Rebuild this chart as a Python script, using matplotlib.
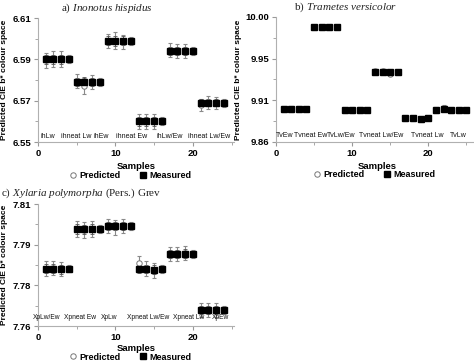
import numpy as np
import matplotlib
matplotlib.use("Agg")
import matplotlib.pyplot as plt
from matplotlib.ticker import MultipleLocator, FixedLocator

# ---- data -------------------------------------------------------------
samples_a = np.arange(1, 25)
measured_a = [6.590, 6.590, 6.590, 6.590, 6.579, 6.579, 6.579, 6.579,
              6.599, 6.599, 6.599, 6.599, 6.560, 6.560, 6.560, 6.560,
              6.594, 6.594, 6.594, 6.594, 6.569, 6.569, 6.569, 6.569]
predicted_a = [6.5895, 6.590, 6.590, 6.590, 6.5795, 6.5770, 6.579, 6.579,
               6.599, 6.599, 6.5985, 6.599, 6.560, 6.560, 6.560, 6.560,
               6.5945, 6.594, 6.594, 6.594, 6.5678, 6.5692, 6.569, 6.569]
err_a = [0.0035, 0.0038, 0.0038, 0.002, 0.0035, 0.0038, 0.0035, 0.002,
         0.0035, 0.004, 0.0035, 0.002, 0.0035, 0.0035, 0.0035, 0.002,
         0.0035, 0.0035, 0.0035, 0.002, 0.003, 0.003, 0.003, 0.002]
groups_a = ["ihLw", "ihneat Lw", "ihEw", "ihneat Ew", "ihLw/Ew", "ihneat Lw/Ew"]
group_x_a = [1.3, 4.9, 8.1, 12.1, 17.0, 22.1]

samples_b = np.arange(1, 26)
measured_b = [9.897, 9.897, 9.897, 9.897, 9.9884, 9.9884, 9.9884, 9.9884,
              9.8955, 9.8955, 9.896, 9.896, 9.938, 9.938, 9.938, 9.938,
              9.8865, 9.8865, 9.886, 9.8865, 9.896, 9.897, 9.8955, 9.8955, 9.8955]
predicted_b = [9.897, 9.897, 9.897, 9.897, 9.9884, 9.9884, 9.9884, 9.9884,
               9.8955, 9.8955, 9.896, 9.896, 9.939, 9.939, 9.9365, 9.938,
               9.8865, 9.8865, 9.8855, 9.8865, 9.896, 9.898, 9.8955, 9.8955, 9.8955]
err_b = [0.003, 0.003, 0.003, 0.0, 0.003, 0.003, 0.003, 0.0,
         0.003, 0.003, 0.003, 0.0, 0.003, 0.003, 0.003, 0.0,
         0.003, 0.003, 0.003, 0.0, 0.003, 0.003, 0.003, 0.003, 0.0]
groups_b = ["TvEw", "Tvneat Ew", "TvLw/Ew", "Tvneat Lw/Ew", "Tvneat Lw", "TvLw"]
group_x_b = [1.1, 4.6, 8.6, 13.8, 19.8, 23.9]

samples_c = np.arange(1, 25)
measured_c = [7.7835, 7.7835, 7.7833, 7.7835, 7.7998, 7.7996, 7.7998, 7.7998,
              7.8010, 7.8010, 7.8010, 7.8010, 7.7834, 7.7834, 7.7830, 7.7834,
              7.7895, 7.7895, 7.7896, 7.7895, 7.7666, 7.7666, 7.7666, 7.7666]
predicted_c = [7.7835, 7.7838, 7.7833, 7.7835, 7.7998, 7.7993, 7.7998, 7.7998,
               7.8010, 7.8005, 7.8010, 7.8010, 7.7858, 7.7836, 7.7828, 7.7834,
               7.7895, 7.7895, 7.7899, 7.7895, 7.7666, 7.7666, 7.7666, 7.7666]
err_c = [0.003, 0.003, 0.003, 0.0015, 0.0033, 0.0033, 0.0033, 0.0015,
         0.003, 0.003, 0.003, 0.0015, 0.003, 0.003, 0.003, 0.0015,
         0.003, 0.003, 0.003, 0.0015, 0.003, 0.003, 0.003, 0.0015]
groups_c = ["XpLw/Ew", "Xpneat Ew", "XpLw", "Xpneat Lw/Ew", "Xpneat Lw", "XpEw"]
group_x_c = [1.1, 5.4, 9.2, 14.2, 19.4, 23.6]

# ---- figure -----------------------------------------------------------
W, H = 474, 361
fig = plt.figure(figsize=(W / 100, H / 100), dpi=100)
plt.rcParams['font.family'] = ['Liberation Sans', 'DejaVu Sans']
plt.rcParams['mathtext.fontset'] = 'custom'
plt.rcParams['mathtext.rm'] = 'Liberation Serif'
plt.rcParams['mathtext.it'] = 'Liberation Serif:italic'


def px_axes(left, top, right, bottom):
    return fig.add_axes([left / W, 1 - bottom / H, (right - left) / W, (bottom - top) / H])


def draw_panel(ax, x, meas, pred, err, groups, gx, gy, ylim, yticks, ylabels, xmax,
               gsize=5.0):
    ax.errorbar(x, pred, yerr=err, fmt='none', ecolor='#8a8a8a', elinewidth=0.8,
                capsize=1.4, capthick=0.8, zorder=1)
    ax.errorbar(x, meas, yerr=np.array(err) * 0.6, fmt='none', ecolor='#555555',
                elinewidth=0.6, capsize=1.1, capthick=0.6, zorder=1)
    ax.plot(x, pred, 'o', ms=3.9, mfc='white', mec='#777777', mew=0.7,
            linestyle='none', label='Predicted', zorder=2)
    ax.plot(x, meas, 's', ms=3.9, color='black', linestyle='none',
            label='Measured', zorder=3)
    for name, xx in zip(groups, gx):
        ax.text(xx, gy, name, fontsize=gsize, ha='center', va='center', color='#111111')
    ax.set_xlim(0, xmax)
    ax.set_ylim(*ylim)
    ax.xaxis.set_major_locator(MultipleLocator(10))
    ax.xaxis.set_minor_locator(MultipleLocator(5))
    ax.yaxis.set_major_locator(FixedLocator(yticks))
    ax.set_yticklabels(ylabels)
    minors = [(a + b) / 2 for a, b in zip(yticks[:-1], yticks[1:])]
    ax.yaxis.set_minor_locator(FixedLocator(minors))
    for s in ['top', 'right']:
        ax.spines[s].set_visible(False)
    for s in ['left', 'bottom']:
        ax.spines[s].set_color('#b0b0b0')
        ax.spines[s].set_linewidth(0.8)
    ax.tick_params(which='both', direction='out', color='#999999', labelsize=6.8, pad=2)
    ax.tick_params(which='major', length=3)
    ax.tick_params(which='minor', length=2)
    for lab in ax.get_xticklabels() + ax.get_yticklabels():
        lab.set_fontweight('bold')
    ax.set_xlabel('Samples', fontsize=6.8, fontweight='bold')
    ax.set_ylabel('Predicted CIE b* colour space', fontsize=6.0, fontweight='bold')


# a) Inonotus hispidus
ax_a = px_axes(38, 18, 234, 142)
draw_panel(ax_a, samples_a, measured_a, predicted_a, err_a, groups_a, group_x_a, 6.5529,
           (6.55, 6.61), [6.55, 6.57, 6.59, 6.61], ['6.55', '6.57', '6.59', '6.61'], 25.3)
ax_a.xaxis.set_label_coords(0.5, -0.16)
ax_a.yaxis.set_label_coords(-0.155, 0.5)
ax_a.legend(loc='center', bbox_to_anchor=(0.475, -0.27), ncol=2, frameon=False,
            handlelength=0.6, handletextpad=0.4, columnspacing=2.2,
            prop={'size': 6.5, 'weight': 'bold'})

# b) Trametes versicolor
ax_b = px_axes(276, 17, 474, 142)
yb = list(np.linspace(9.86, 10.00, 4))
draw_panel(ax_b, samples_b, measured_b, predicted_b, err_b, groups_b, group_x_b, 9.867,
           (9.86, 10.00), yb, ['9.86', '9.91', '9.95', '10.00'], 26.0)
ax_b.xaxis.set_label_coords(0.51, -0.16)
ax_b.yaxis.set_label_coords(-0.17, 0.5)
ax_b.legend(loc='center', bbox_to_anchor=(0.5, -0.26), ncol=2, frameon=False,
            handlelength=0.6, handletextpad=0.4, columnspacing=2.2,
            prop={'size': 6.5, 'weight': 'bold'})

# c) Xylaria polymorpha
ax_c = px_axes(38, 204, 234, 326)
yc = list(np.linspace(7.76, 7.81, 4))
draw_panel(ax_c, samples_c, measured_c, predicted_c, err_c, groups_c, group_x_c, 7.7633,
           (7.76, 7.81), yc, ['7.76', '7.78', '7.79', '7.81'], 25.3, gsize=4.8)
ax_c.xaxis.set_label_coords(0.5, -0.15)
ax_c.yaxis.set_label_coords(-0.155, 0.5)
ax_c.legend(loc='center', bbox_to_anchor=(0.475, -0.255), ncol=2, frameon=False,
            handlelength=0.6, handletextpad=0.4, columnspacing=2.2,
            prop={'size': 6.5, 'weight': 'bold'})

# panel titles (serif, species in italics)
serif = ['Liberation Serif', 'DejaVu Serif']
fig.text(107 / W, 1 - 8 / H, r'a) $\it{Inonotus\ hispidus}$', ha='center', va='center',
         fontsize=8, family=serif, color='#222222')
fig.text(346 / W, 1 - 7 / H, r'b) $\it{Trametes\ versicolor}$', ha='center', va='center',
         fontsize=8, family=serif, color='#222222')
fig.text(81 / W, 1 - 193 / H, r'c) $\it{Xylaria\ polymorpha}$ (Pers.) Grev', ha='center',
         va='center', fontsize=8, family=serif, color='#222222')

fig.savefig('out.png', dpi=100)
